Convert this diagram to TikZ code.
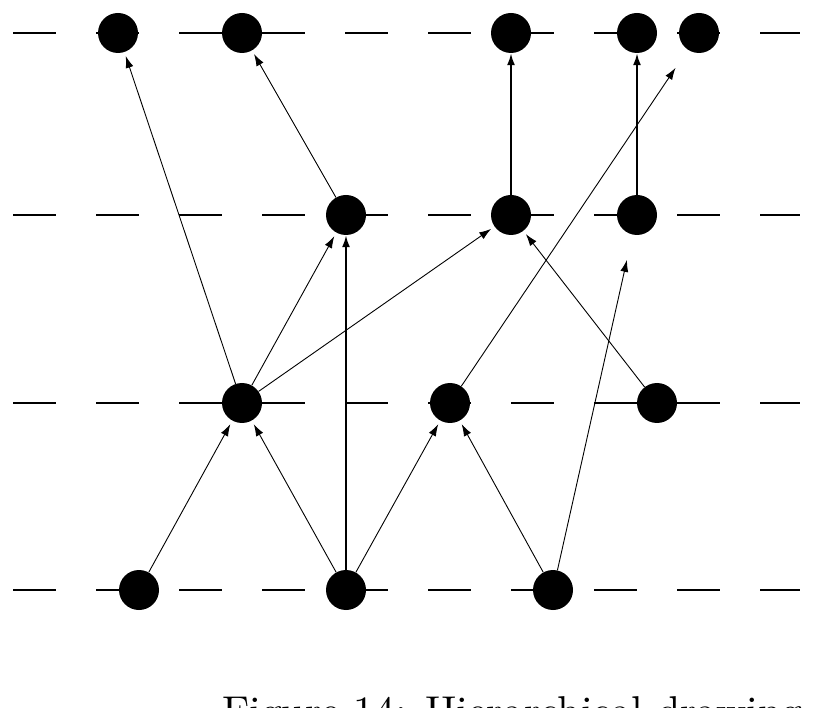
\documentclass[tikz,border=0pt]{standalone}
\usetikzlibrary{arrows.meta}
\begin{document}
\begin{tikzpicture}[x=1pt,y=-1pt,
  vtx/.style={circle,fill=black,minimum size=40pt,inner sep=0pt},
  rowline/.style={line width=2.2pt,dash pattern=on 43pt off 40pt},
  edge/.style={line width=0.9pt,-{Latex[length=12pt,width=8pt]},shorten >=4pt},
  thick edge/.style={line width=2pt,-{Latex[length=12pt,width=8pt]}}]
\useasboundingbox (0,0) rectangle (830,708);
\foreach \y in {33,215,403,590} \draw[rowline] (13,\y) -- (800,\y);
\node[vtx] (a1) at (118,33) {};
\node[vtx] (a2) at (242,33) {};
\node[vtx] (a3) at (511,33) {};
\node[vtx] (a4) at (637,33) {};
\node[vtx] (a5) at (699,33) {};
\node[vtx] (b1) at (346,215) {};
\node[vtx] (b2) at (511,215) {};
\node[vtx] (b3) at (637,215) {};
\node[vtx] (c1) at (242,403) {};
\node[vtx] (c2) at (450,403) {};
\node[vtx] (c3) at (657,403) {};
\node[vtx] (d1) at (139,590) {};
\node[vtx] (d2) at (346,590) {};
\node[vtx] (d3) at (553,590) {};
\draw[edge] (c1) -- (a1);
\draw[edge] (b1) -- (a2);
\draw[thick edge] (b2) -- (a3);
\draw[thick edge] (b3) -- (a4);
\draw[edge,shorten >=42pt] (c2) -- (a5.center);
\draw[edge] (c1) -- (b1);
\draw[thick edge] (d2) -- (b1);
\draw[edge] (c1) -- (b2);
\draw[edge] (c3) -- (b2);
\draw[edge,shorten >=46pt] (d3) -- (b3.center);
\draw[edge] (d1) -- (c1);
\draw[edge] (d2) -- (c1);
\draw[edge] (d2) -- (c2);
\draw[edge] (d3) -- (c2);
\node[anchor=base west,inner sep=0pt] (cap) at (222,725)
  {\resizebox{580pt}{!}{Figure 14: Hierarchical drawing}};
\end{tikzpicture}
\end{document}
